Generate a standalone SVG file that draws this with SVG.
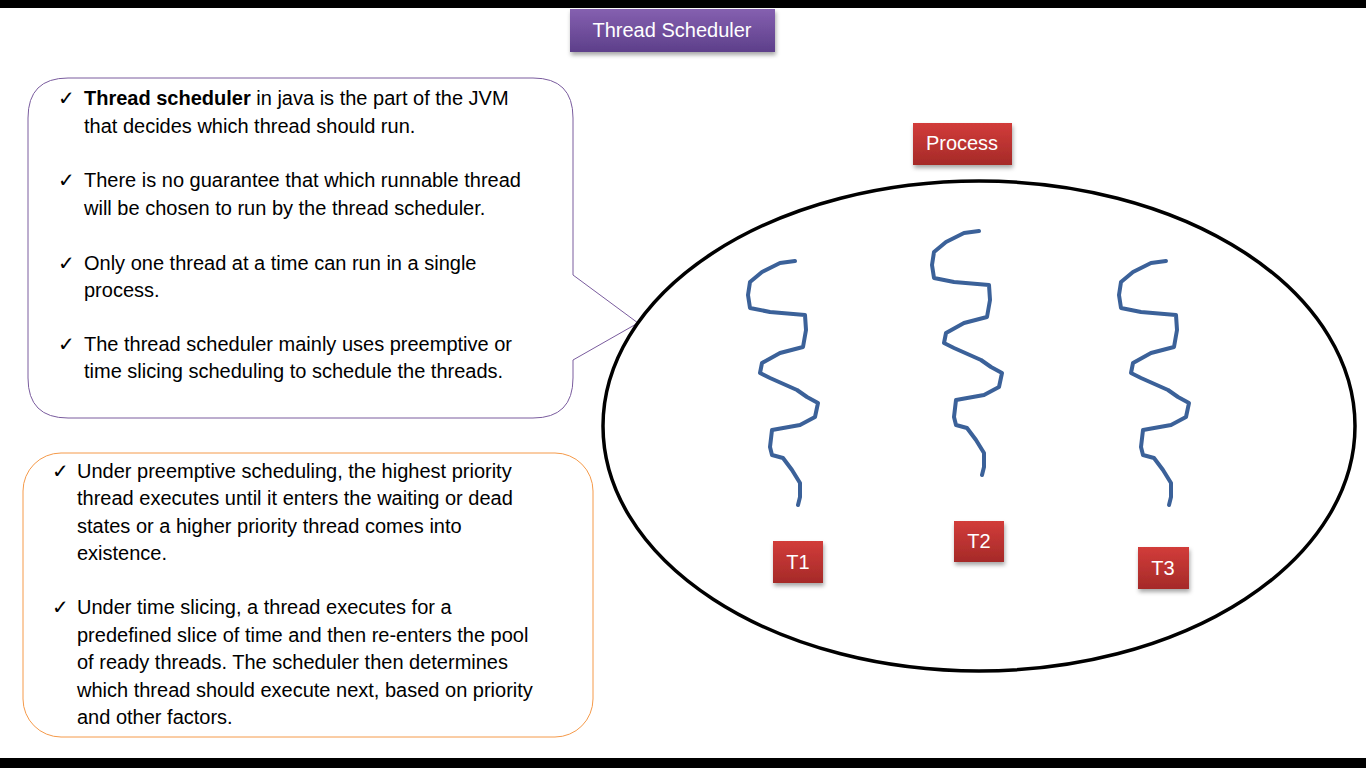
<svg xmlns="http://www.w3.org/2000/svg" width="1366" height="768" viewBox="0 0 1366 768">
<defs>
<linearGradient id="gp" x1="0" y1="0" x2="0" y2="1"><stop offset="0" stop-color="#8560b0"/><stop offset="1" stop-color="#5d3f8a"/></linearGradient>
<linearGradient id="gr" x1="0" y1="0" x2="0" y2="1"><stop offset="0" stop-color="#d23c3a"/><stop offset="1" stop-color="#a52a28"/></linearGradient>
<filter id="sh" x="-20%" y="-20%" width="140%" height="160%"><feDropShadow dx="1" dy="3" stdDeviation="2" flood-color="#000" flood-opacity="0.35"/></filter>
<path id="wave" d="M795,261 L780,263 L762,272 L750,282 L748,295 L750,308 L770,312 L805,315 L806,330 L803,347 L780,353 L762,363 L760,373 L770,378 L797,390 L807,397 L818,403 L815,417 L800,425 L772,430 L770,447 L772,455 L783,458 L792,470 L800,483 L800,497 L798,505"/>
</defs>
<style>
.t{font-family:"Liberation Sans",Arial,sans-serif;font-size:20px;fill:#000}
.lb{font-family:"Liberation Sans",Arial,sans-serif;font-size:20px;fill:#fff;text-anchor:middle}
.w{fill:none;stroke:#3b6199;stroke-width:4;stroke-linejoin:round;stroke-linecap:round}
</style>
<rect width="1366" height="768" fill="#fff"/>
<rect x="0" y="0" width="1366" height="8" fill="#000"/>
<rect x="0" y="758" width="1366" height="10" fill="#000"/>
<g id="title"><rect x="570" y="9" width="205" height="43" fill="url(#gp)" filter="url(#sh)"/><text class="lb" x="672" y="37">Thread Scheduler</text></g>
<g id="callout1">
<path d="M68,78 H533 Q573,78 573,118 V275 L638,323 L573,360 V378 Q573,418 533,418 H68 Q28,418 28,378 V118 Q28,78 68,78 Z" fill="#fff" stroke="#7a5c9e" stroke-width="1"/>
<g class="t">
<text x="58" y="105">✓</text><text x="84" y="105"><tspan font-weight="bold">Thread scheduler</tspan> in java is the part of the JVM</text>
<text x="84" y="133">that decides which thread should run.</text>
<text x="58" y="187">✓</text><text x="84" y="187">There is no guarantee that which runnable thread</text>
<text x="84" y="215">will be chosen to run by the thread scheduler.</text>
<text x="58" y="270">✓</text><text x="84" y="270">Only one thread at a time can run in a single</text>
<text x="84" y="297">process.</text>
<text x="58" y="351">✓</text><text x="84" y="351">The thread scheduler mainly uses preemptive or</text>
<text x="84" y="378">time slicing scheduling to schedule the threads.</text>
</g></g>
<g id="callout2">
<rect x="23" y="453" width="570" height="284" rx="38" fill="#fff" stroke="#f59a4a" stroke-width="1"/>
<g class="t">
<text x="52" y="478">✓</text><text x="77" y="478">Under preemptive scheduling, the highest priority</text>
<text x="77" y="505">thread executes until it enters the waiting or dead</text>
<text x="77" y="533">states or a higher priority thread comes into</text>
<text x="77" y="560">existence.</text>
<text x="52" y="614">✓</text><text x="77" y="614">Under time slicing, a thread executes for a</text>
<text x="77" y="642">predefined slice of time and then re-enters the pool</text>
<text x="77" y="669">of ready threads. The scheduler then determines</text>
<text x="77" y="697">which thread should execute next, based on priority</text>
<text x="77" y="724">and other factors.</text>
</g></g>
<g id="process">
<ellipse cx="979" cy="426" rx="376" ry="245" fill="none" stroke="#000" stroke-width="3.5"/>
<rect x="913" y="123" width="99" height="42" fill="url(#gr)" filter="url(#sh)"/><text class="lb" x="962" y="150">Process</text>
</g>
<g id="threads">
<use href="#wave" class="w"/>
<use href="#wave" class="w" transform="translate(184,-30)"/>
<use href="#wave" class="w" transform="translate(371,0)"/>
</g>
<g id="t1"><rect x="773" y="541" width="50" height="42" fill="url(#gr)" filter="url(#sh)"/><text class="lb" x="798" y="569">T1</text></g>
<g id="t2"><rect x="954" y="521" width="50" height="41" fill="url(#gr)" filter="url(#sh)"/><text class="lb" x="979" y="548">T2</text></g>
<g id="t3"><rect x="1138" y="547" width="51" height="42" fill="url(#gr)" filter="url(#sh)"/><text class="lb" x="1163" y="575">T3</text></g>
</svg>
